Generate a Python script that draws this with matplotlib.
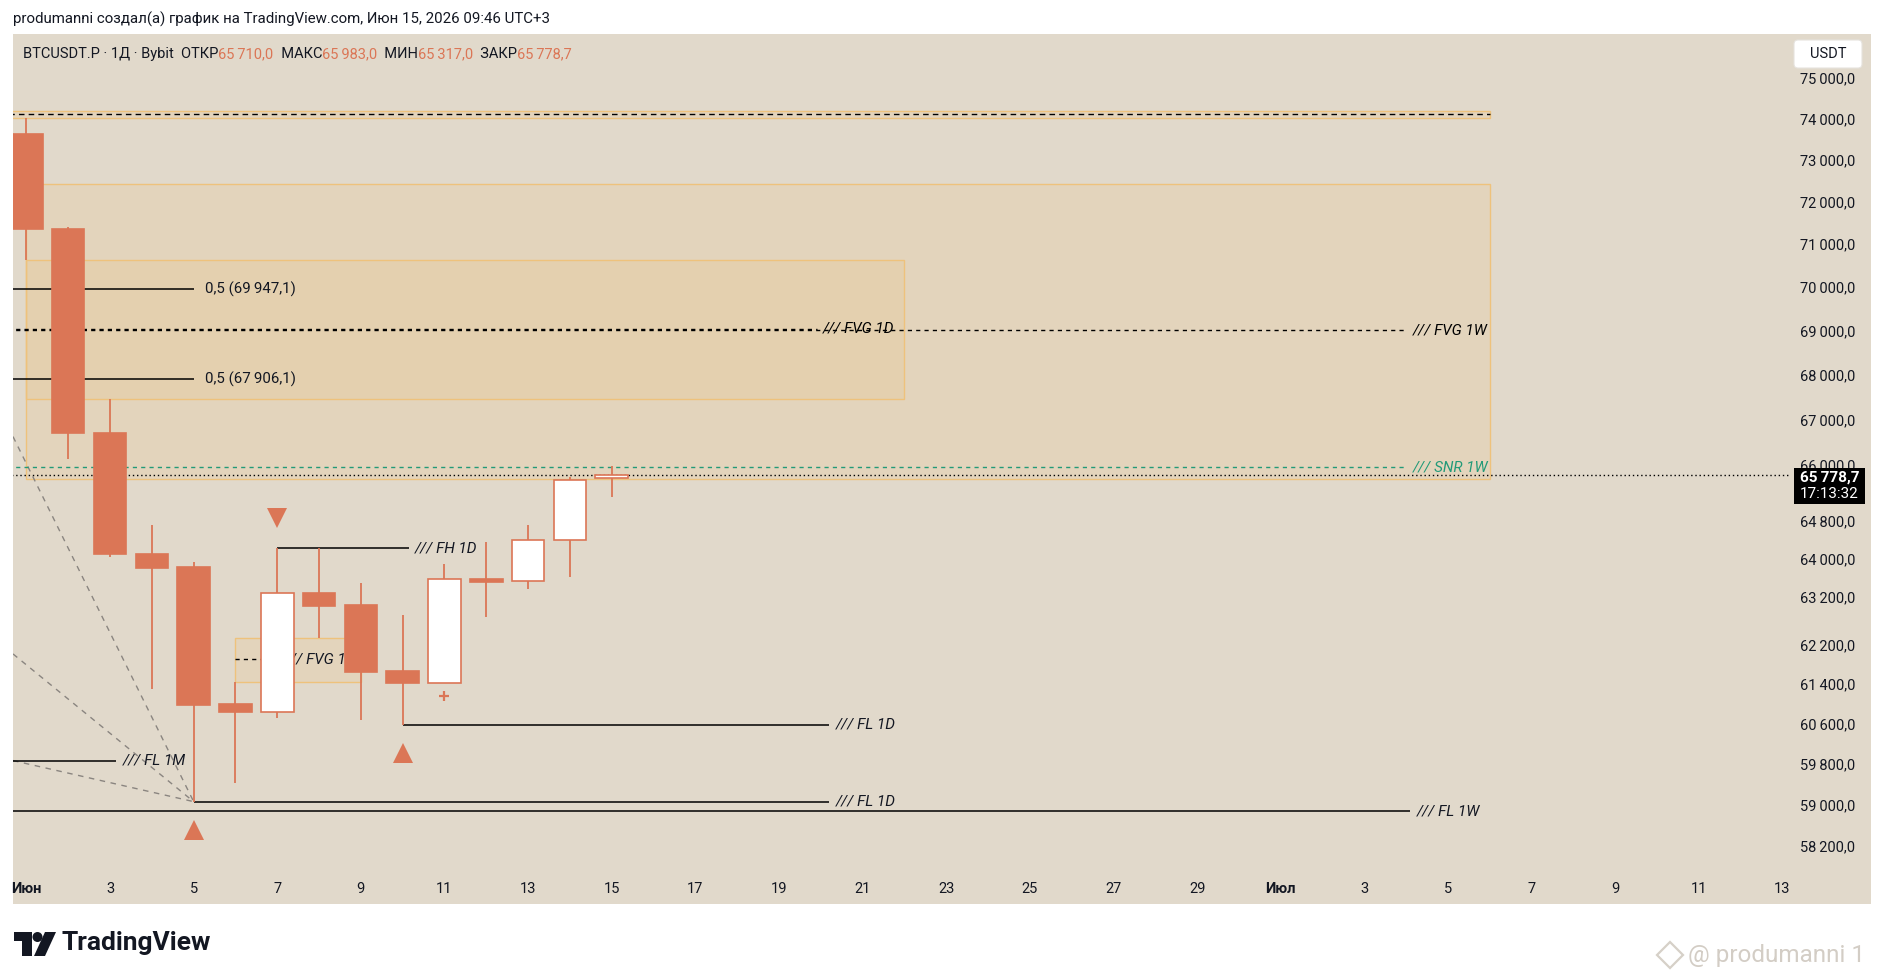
import matplotlib
matplotlib.use("Agg")
import matplotlib.pyplot as plt
from matplotlib.patches import Rectangle, Polygon, Circle, FancyBboxPatch
from matplotlib.ticker import NullLocator
from matplotlib.transforms import IdentityTransform
from matplotlib.lines import Line2D

plt.rcParams["font.family"] = ["Roboto", "DejaVu Sans"]

# --- data -------------------------------------------------------------------
# daily candles, day of June
days = list(range(1, 16))
opens = [73629, 71342, 66696, 64090, 63812, 60990, 60823, 63265, 63020, 61660,
         61425, 63560, 63520, 64382, 65710]
highs = [74010, 71400, 67460, 64707, 63920, 61438, 64211, 64211, 63474, 62811,
         63880, 64345, 64707, 65735, 65983]
lows = [70627, 66141, 64020, 61297, 59058, 59415, 60703, 62330, 60678, 60580,
        61425, 62768, 63347, 63612, 65317]
closes = [71342, 66696, 64084, 63802, 60979, 60823, 63265, 63007, 61648, 61425,
          63556, 63510, 64382, 65668, 65778.7]

# zones (start day, end day, low, high)
zone_start = [0, 1, 1, 6]
zone_end = [36, 36, 22, 9]
zone_low = [74016, 65690, 67460, 61438]
zone_high = [74180, 72426, 70627, 62330]

# dashed levels with labels
dash_labels = ["/// FVG 1W", "/// FVG 1D", "/// SNR 1W"]
dash_prices = [69003, 69038, 65951]
dash_end = [34.0, 19.9, 34.0]
top_mid_price = 74107

# solid levels with labels
solid_labels = ["/// FH 1D", "/// FL 1D", "/// FL 1D", "/// FL 1M", "/// FL 1W"]
solid_prices = [64211, 60580, 59058, 59864, 58868]
solid_start = [7, 10, 5, 0, 0]
solid_end = [10.15, 20.2, 20.2, 3.15, 34.1]

# 0.5 levels
half_prices = [69947.1, 67906.1]
half_end = 5

# small FVG midline
small_fvg_mid = 61904
small_fvg_label = "/// FVG 1D"

# fan lines meeting at the Jun 5 low
fan_start_prices = [66625, 62010, 59864]
fan_pivot_day = 5
fan_pivot_price = 59058

# markers
tri_down_days, tri_down_prices = [7], [64862]
tri_up_days, tri_up_prices = [5, 10], [58500, 60007]
plus_days, plus_prices = [11], [61159]

price_ticks = [75000, 74000, 73000, 72000, 71000, 70000, 69000, 68000, 67000,
               66000, 64800, 64000, 63200, 62200, 61400, 60600, 59800, 59000, 58200]
date_ticks = list(range(1, 44, 2))
date_labels = ["Июн", "3", "5", "7", "9", "11", "13", "15", "17", "19", "21",
               "23", "25", "27", "29", "Июл", "3", "5", "7", "9", "11", "13"]

# --- style -------------------------------------------------------------------
W, H = 1884, 980
BG = "#E1D9CB"
ORANGE = "#DB7656"
TEAL = "#229A78"
INK = "#131722"
ZONE = "#F5B041"
ZONE_EDGE = "#EEC27C"
X_LEFT, X_RIGHT = 0.68, 43.18
Y_LOW, Y_HIGH = 57720, 76100
LABEL_FS = 11


def fmt(v):
    return f"{v:,.1f}".replace(",", "\u2009").replace(".", ",")


fig = plt.figure(figsize=(W / 100, H / 100), dpi=100, facecolor="white")
ident = IdentityTransform()

# chart panel
fig.add_artist(Rectangle((13 / W, 1 - 904 / H), (1871 - 13) / W, (904 - 34) / H,
                         transform=fig.transFigure, facecolor=BG, edgecolor="none", zorder=0))

ax = fig.add_axes([13 / W, 1 - 871 / H, (1790 - 13) / W, (871 - 34) / H])
ax.patch.set_alpha(0)
for s in ax.spines.values():
    s.set_visible(False)
ax.set_yscale("log")
ax.set_xlim(X_LEFT, X_RIGHT)
ax.set_ylim(Y_LOW, Y_HIGH)

# zones
for x0, x1, lo, hi in zip(zone_start, zone_end, zone_low, zone_high):
    ax.add_patch(Rectangle((x0, lo), x1 - x0, hi - lo, facecolor=ZONE, alpha=0.1,
                           edgecolor="none", zorder=1))
    ax.add_patch(Rectangle((x0, lo), x1 - x0, hi - lo, facecolor="none",
                           edgecolor=ZONE_EDGE, lw=1.0, zorder=1))
ax.hlines(top_mid_price, 0, zone_end[0], colors="black", lw=1.0,
          linestyles=(0, (4, 3)), zorder=2)

# fan lines
for p in fan_start_prices:
    ax.plot([X_LEFT, fan_pivot_day], [p, fan_pivot_price], color="#8A8580",
            lw=1.0, ls=(0, (4, 4)), zorder=2)

# dashed labelled levels
for lab, p, x1 in zip(dash_labels, dash_prices, dash_end):
    col = TEAL if "SNR" in lab else "black"
    ax.hlines(p, 0, x1, colors=col, lw=1.0, linestyles=(0, (3, 3)), zorder=2)
    ax.text(x1 + 0.15, p, lab, ha="left", va="center", fontsize=LABEL_FS,
            style="italic", color=col, zorder=2)

# solid labelled levels
for lab, p, x0, x1 in zip(solid_labels, solid_prices, solid_start, solid_end):
    ax.hlines(p, x0, x1, colors="black", lw=1.1, zorder=2)
    ax.text(x1 + 0.15, p, lab, ha="left", va="center", fontsize=LABEL_FS,
            style="italic", color=INK, zorder=2)

# 0.5 levels
for p in half_prices:
    ax.hlines(p, 0, half_end, colors="black", lw=1.1, zorder=2)
    ax.text(half_end + 0.28, p, f"0,5 ({fmt(p)})", ha="left", va="center",
            fontsize=10.8, color=INK, zorder=2)

# small fvg midline + label (under the candles)
ax.hlines(small_fvg_mid, zone_start[3], zone_start[3] + 1, colors="black", lw=1.0,
          linestyles=(0, (3, 3)), zorder=2)
ax.text(zone_end[3] - 0.1, small_fvg_mid, small_fvg_label, ha="right", va="center",
        fontsize=LABEL_FS, style="italic", color=INK, zorder=2)

# current price
last_close = closes[-1]
ax.hlines(last_close, 0, X_RIGHT, colors="black", lw=1.0, linestyles=(0, (1, 2)), zorder=3)

# candles
bull = [c >= o for o, c in zip(opens, closes)]
ax.vlines(days, lows, highs, colors=ORANGE, lw=1.3, zorder=4)
ax.bar(days, [abs(c - o) for o, c in zip(opens, closes)],
       bottom=[min(o, c) for o, c in zip(opens, closes)], width=0.78,
       color=["white" if b else ORANGE for b in bull], edgecolor=ORANGE,
       linewidth=1.2, zorder=5)

# markers
ax.plot(tri_down_days, tri_down_prices, "v", color=ORANGE, ms=15, mew=0, zorder=5)
ax.plot(tri_up_days, tri_up_prices, "^", color=ORANGE, ms=15, mew=0, zorder=5)
ax.plot(plus_days, plus_prices, "+", color=ORANGE, ms=7, mew=1.6, zorder=5)

# axes ticks
ax.yaxis.tick_right()
ax.set_yticks(price_ticks)
ax.yaxis.set_minor_locator(NullLocator())
ax.set_yticklabels([fmt(v) for v in price_ticks])
ax.tick_params(axis="y", length=0, pad=47, labelsize=10.5, labelcolor=INK)
for lab in ax.get_yticklabels():
    lab.set_ha("right")
ax.set_xticks(date_ticks)
ax.set_xticklabels(date_labels)
ax.tick_params(axis="x", length=0, pad=8, labelsize=10.5, labelcolor=INK)
for lab in ax.get_xticklabels():
    if not lab.get_text().isdigit():
        lab.set_fontweight("bold")

# price tag, anchored at the last close (covers the 66 000 label as on screen)
tag_y = ax.transData.transform((1, last_close))[1]
fig.add_artist(Rectangle((1794, tag_y - 29), 71, 36, transform=ident,
                         facecolor="black", edgecolor="none", zorder=8))
fig.text(1829.5 / W, (tag_y - 2) / H, fmt(last_close), ha="center", va="center",
         fontsize=11, fontweight="bold", color="white", zorder=9)
fig.text(1829.5 / W, (tag_y - 19) / H, "17:13:32", ha="center", va="center",
         fontsize=11, color="white", zorder=9)

# USDT button
fig.add_artist(FancyBboxPatch((1794, H - 68), 68, 28,
                              boxstyle="round,pad=0,rounding_size=4",
                              transform=ident, facecolor="white",
                              edgecolor="#E6E3DE", lw=0.8, zorder=5))
fig.text(1828 / W, 1 - 54 / H, "USDT", ha="center", va="center", fontsize=10.5,
         color=INK, zorder=6)

# header texts
fig.text(13 / W, 1 - 19 / H, "produmanni создал(а) график на TradingView.com, "
         "Июн 15, 2026 09:46 UTC+3", ha="left", va="center", fontsize=10.8, color=INK)
segments = [("BTCUSDT.P · 1Д · Bybit  ОТКР", INK), (fmt(opens[-1]), ORANGE),
            ("  МАКС", INK), (fmt(highs[-1]), ORANGE),
            ("  МИН", INK), (fmt(lows[-1]), ORANGE),
            ("  ЗАКР", INK), (fmt(last_close), ORANGE)]
prev = fig.text(23 / W, 1 - 61 / H, segments[0][0], ha="left", va="bottom",
                fontsize=10.5, color=segments[0][1])
for txt, col in segments[1:]:
    prev = ax.annotate(txt, xy=(1, 0), xycoords=prev, ha="left", va="bottom",
                       fontsize=10.5, color=col, annotation_clip=False)

# TradingView logo
fig.add_artist(Polygon([(14, H - 932), (32, H - 932), (32, H - 956), (22, H - 956),
                        (22, H - 941), (14, H - 941)], closed=True,
                       transform=ident, facecolor=INK, edgecolor="none"))
fig.add_artist(Circle((37.5, H - 937), 5, transform=ident, facecolor=INK,
                      edgecolor="none"))
fig.add_artist(Polygon([(45, H - 932), (56, H - 932), (45, H - 956), (34, H - 956)],
                       closed=True, transform=ident, facecolor=INK, edgecolor="none"))
fig.text(62 / W, 1 - 943 / H, "TradingView", ha="left", va="center", fontsize=19,
         fontweight="bold", color=INK)

# watermark
fig.add_artist(Line2D([1670 / W], [1 - 955 / H], marker="D", ms=13, mfc="none",
                      mec="#D6D0C8", mew=1.6, transform=fig.transFigure))
fig.text(1688 / W, 1 - 955 / H, "@ produmanni 1", ha="left", va="center",
         fontsize=17.5, color="#D3CDC5")

fig.savefig("out.png", dpi=100, facecolor="white")
plt.close(fig)
